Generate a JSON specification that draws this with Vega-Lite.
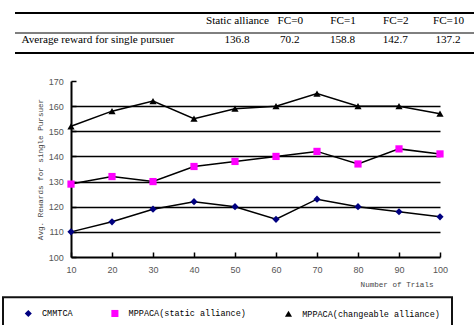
{
  "$schema": "https://vega.github.io/schema/vega-lite/v6.json",
  "width": 459,
  "height": 176,
  "autosize": {"type": "none"},
  "padding": {"left": 15, "top": 81, "right": 0, "bottom": 68},
  "background": "white",
  "config": {"view": {"stroke": null}, "font": "Liberation Sans", "legend": {"strokeWidth": 2}},
  "layer": [
    {
      "data": {"values": [
        {"trials": 10, "series": "CMMTCA", "reward": 110},
        {"trials": 20, "series": "CMMTCA", "reward": 114},
        {"trials": 30, "series": "CMMTCA", "reward": 119},
        {"trials": 40, "series": "CMMTCA", "reward": 122},
        {"trials": 50, "series": "CMMTCA", "reward": 120},
        {"trials": 60, "series": "CMMTCA", "reward": 115},
        {"trials": 70, "series": "CMMTCA", "reward": 123},
        {"trials": 80, "series": "CMMTCA", "reward": 120},
        {"trials": 90, "series": "CMMTCA", "reward": 118},
        {"trials": 100, "series": "CMMTCA", "reward": 116},
        {"trials": 10, "series": "MPPACA(static alliance)", "reward": 129},
        {"trials": 20, "series": "MPPACA(static alliance)", "reward": 132},
        {"trials": 30, "series": "MPPACA(static alliance)", "reward": 130},
        {"trials": 40, "series": "MPPACA(static alliance)", "reward": 136},
        {"trials": 50, "series": "MPPACA(static alliance)", "reward": 138},
        {"trials": 60, "series": "MPPACA(static alliance)", "reward": 140},
        {"trials": 70, "series": "MPPACA(static alliance)", "reward": 142},
        {"trials": 80, "series": "MPPACA(static alliance)", "reward": 137},
        {"trials": 90, "series": "MPPACA(static alliance)", "reward": 143},
        {"trials": 100, "series": "MPPACA(static alliance)", "reward": 141},
        {"trials": 10, "series": "MPPACA(changeable alliance)", "reward": 152},
        {"trials": 20, "series": "MPPACA(changeable alliance)", "reward": 158},
        {"trials": 30, "series": "MPPACA(changeable alliance)", "reward": 162},
        {"trials": 40, "series": "MPPACA(changeable alliance)", "reward": 155},
        {"trials": 50, "series": "MPPACA(changeable alliance)", "reward": 159},
        {"trials": 60, "series": "MPPACA(changeable alliance)", "reward": 160},
        {"trials": 70, "series": "MPPACA(changeable alliance)", "reward": 165},
        {"trials": 80, "series": "MPPACA(changeable alliance)", "reward": 160},
        {"trials": 90, "series": "MPPACA(changeable alliance)", "reward": 160},
        {"trials": 100, "series": "MPPACA(changeable alliance)", "reward": 157}
      ]},
      "encoding": {
        "x": {"field": "trials", "type": "quantitative",
          "scale": {"domain": [10, 100], "range": [56, 425], "nice": false, "zero": false},
          "axis": {"values": [10, 20, 30, 40, 50, 60, 70, 80, 90, 100], "tickCount": 10, "grid": false,
            "title": "Number of Trials", "titleFont": "Liberation Mono", "titleFontSize": 7.6,
            "titleFontWeight": "normal", "titleColor": "#444", "titleX": 418, "titleAlign": "right",
            "titlePadding": 6, "labelFont": "Liberation Sans", "labelFontSize": 9, "labelColor": "#555",
            "labelPadding": 13.6, "labelFlush": false, "labelOverlap": false, "domainColor": "black", "domainWidth": 2,
            "ticks": true, "tickColor": "black", "tickWidth": 1.5, "tickSize": -5}},
        "y": {"field": "reward", "type": "quantitative",
          "scale": {"domain": [100, 170], "nice": false, "zero": false},
          "axis": {"orient": "left", "offset": -56, "values": [100, 110, 120, 130, 140, 150, 160, 170], "tickCount": 8,
            "title": "Avg. Rewards for single Pursuer", "titleFont": "Liberation Mono", "titleFontSize": 7.6,
            "titleFontWeight": "normal", "titleColor": "#444", "titlePadding": 4,
            "labelFont": "Liberation Sans", "labelFontSize": 9, "labelColor": "#555", "labelPadding": 12.7,
            "labelOverlap": false,
            "domainColor": "black", "domainWidth": 2, "ticks": true, "tickColor": "black", "tickWidth": 1.5, "tickSize": -5,
            "grid": true, "gridColor": "black", "gridWidth": 1.6,
            "gridOpacity": {"condition": {"test": "datum.value >= 170 || datum.value <= 100", "value": 0}, "value": 1}}}
      },
      "layer": [
        {
          "mark": {"type": "line", "color": "black", "strokeWidth": 1.5},
          "encoding": {"detail": {"field": "series"}}
        },
        {
          "mark": {"type": "point", "filled": true, "opacity": 1, "size": 52, "strokeWidth": 0},
          "encoding": {
            "fill": {"field": "series", "type": "nominal",
              "scale": {"domain": ["CMMTCA", "MPPACA(static alliance)", "MPPACA(changeable alliance)"], "range": ["#000080", "#ff00ff", "#000000"]},
              "legend": {"orient": "none", "legendX": -12, "legendY": 216.3, "direction": "horizontal", "title": null,
                "strokeColor": "#111", "fillColor": "white", "padding": 11.2, "symbolSize": 50,
                "symbolOffset": 9.6, "labelOffset": 9.2, "columnPadding": 27.6,
                "labelFont": "Liberation Mono", "labelFontSize": 8.5, "labelColor": "black", "labelLimit": 0}},
            "shape": {"field": "series", "type": "nominal",
              "scale": {"domain": ["CMMTCA", "MPPACA(static alliance)", "MPPACA(changeable alliance)"], "range": ["diamond", "square", "triangle-up"]}}
          }
        }
      ]
    },
    {
      "data": {"values": [
        {"alliance": "Static alliance", "reward": 136.8},
        {"alliance": "FC=0", "reward": 70.2},
        {"alliance": "FC=1", "reward": 158.8},
        {"alliance": "FC=2", "reward": 142.7},
        {"alliance": "FC=10", "reward": 137.2}
      ]},
      "layer": [
        {
          "mark": {"type": "text", "font": "Liberation Serif", "fontSize": 11.2, "fontWeight": "normal", "color": "black", "baseline": "alphabetic"},
          "encoding": {
            "x": {"field": "alliance", "type": "nominal", "sort": null,
              "scale": {"type": "point", "domain": ["Static alliance", "FC=0", "FC=1", "FC=2", "FC=10"], "range": [222, 433], "padding": 0},
              "axis": {"orient": "top", "offset": 58, "domain": false, "ticks": false, "grid": false, "title": null,
                "labelAngle": 0, "labelPadding": 0, "labelBaseline": "alphabetic", "labelFont": "Liberation Serif",
                "labelFontSize": 11.2, "labelFontWeight": "normal", "labelColor": "black", "labelLimit": 0, "labelOverlap": false}},
            "y": {"datum": "Average reward for single pursuer", "type": "nominal",
              "scale": {"type": "band", "domain": ["Alliance", "Average reward for single pursuer"], "range": [-68, -28], "paddingInner": 0, "paddingOuter": 0},
              "axis": {"orient": "left", "values": ["Average reward for single pursuer"], "domain": false, "ticks": false, "grid": false,
                "title": null, "labelAlign": "left", "labelPadding": -6, "labelFont": "Liberation Serif", "labelFontSize": 11.2,
                "labelColor": "black", "labelOffset": 0, "labelLimit": 0, "labelBaseline": "alphabetic"}},
            "text": {"field": "reward", "type": "quantitative", "format": ".1f"}
          }
        },
        {
          "data": {"values": [{}]},
          "mark": {"type": "rule", "color": "black", "strokeWidth": 2},
          "encoding": {"y": {"datum": "Alliance", "type": "nominal", "bandPosition": 0}}
        },
        {
          "data": {"values": [{}]},
          "mark": {"type": "rule", "color": "black", "strokeWidth": 1},
          "encoding": {"y": {"datum": "Average reward for single pursuer", "type": "nominal", "bandPosition": 0}}
        },
        {
          "data": {"values": [{}]},
          "mark": {"type": "rule", "color": "black", "strokeWidth": 2},
          "encoding": {"y": {"datum": "Average reward for single pursuer", "type": "nominal", "bandPosition": 1}}
        }
      ]
    }
  ],
  "resolve": {"scale": {"x": "independent", "y": "independent"}}
}
